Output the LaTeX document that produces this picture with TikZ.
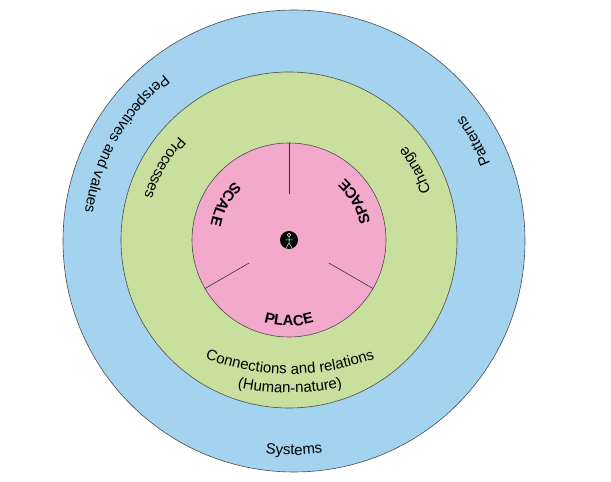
\documentclass[tikz,border=0pt]{standalone}
\usepackage{fontspec}
\setmainfont{Liberation Sans}
\usetikzlibrary{decorations.text}
\definecolor{cblue}{HTML}{A3D3EF}
\definecolor{cgreen}{HTML}{C9DF9E}
\definecolor{cpink}{HTML}{F2A9CB}
\begin{document}
\begin{tikzpicture}[x=1pt,y=1pt,
  ring/.style={draw=black!70,line width=0.6pt},
  curv/.style={decorate,decoration={text along path,text align=center,text={#1}}}]
\useasboundingbox (0,0) rectangle (611,482);
\coordinate (O1) at (294,241);
\coordinate (O2) at (289,242);
\node[ring,circle,fill=cblue,minimum size=462pt,inner sep=0] (outer) at (O1) {};
\node[ring,circle,fill=cgreen,minimum size=336pt,inner sep=0] (mid) at (O2) {};
\node[ring,circle,fill=cpink,minimum size=194pt,inner sep=0] (inner) at (O2) {};
% divider lines
\draw[black!80,line width=0.6pt] (O2)++(90:46) -- ++(90:51);
\draw[black!80,line width=0.6pt] (O2)++(210:46) -- ++(210:51);
\draw[black!80,line width=0.6pt] (O2)++(330:46) -- ++(330:51);
% icon
\node[circle,fill=black,minimum size=18pt,inner sep=0] (icon) at (O2) {};
\draw[white,line width=0.5pt] (289,247) circle (1.8pt);
\draw[white,line width=0.5pt] (289,245.2) -- (289,239) -- (286,234) (289,239) -- (292,234) (285.5,242) -- (292.5,242);
% outer ring texts
\path[curv={|\fontsize{15}{15}\selectfont|Perspectives and values}] (O1) ++(116:211) arc[start angle=116,end angle=184,radius=211];
\path[curv={|\fontsize{15}{15}\selectfont|Patterns}] (O1) ++(0:211) arc[start angle=0,end angle=58,radius=211];
\path[curv={|\fontsize{15}{15}\selectfont|Systems}] (O1) ++(250:214) arc[start angle=250,end angle=290,radius=214];
% middle ring texts
\path[curv={|\fontsize{15}{15}\selectfont|Processes}] (O2) ++(120:151) arc[start angle=120,end angle=180,radius=151];
\path[curv={|\fontsize{15}{15}\selectfont|Change}] (O2) ++(0:150) arc[start angle=0,end angle=58,radius=150];
\path[curv={|\fontsize{15}{15}\selectfont|Connections and relations}] (290,348) ++(245:240) arc[start angle=245,end angle=295,radius=240];
\path[curv={|\fontsize{15}{15}\selectfont|(Human-nature)}] (290,329) ++(245:240) arc[start angle=245,end angle=295,radius=240];
% inner texts
\path[curv={|\fontsize{15}{15}\selectfont\bfseries|SCALE}] (O2) ++(121:80) arc[start angle=121,end angle=181,radius=80];
\path[curv={|\fontsize{15}{15}\selectfont\bfseries|SPACE}] (O2) ++(0:83) arc[start angle=0,end angle=60,radius=83];
\path[curv={|\fontsize{15}{15}\selectfont\bfseries|PLACE}] (O2) ++(240:86) arc[start angle=240,end angle=300,radius=86];
\end{tikzpicture}
\end{document}
